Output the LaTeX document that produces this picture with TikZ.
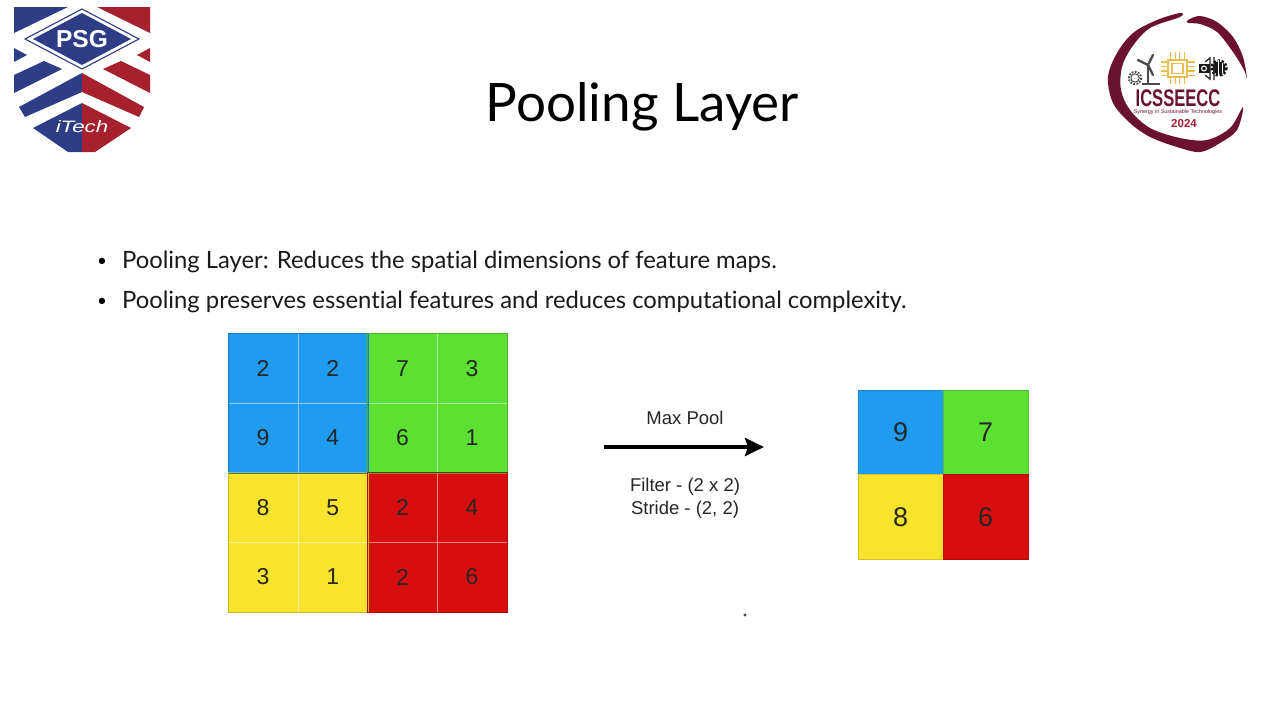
\documentclass[tikz,border=0pt]{standalone}
\usepackage{fontspec}
\setmainfont[Ligatures=NoCommon]{Lato}
\newfontfamily\digitfont{Liberation Sans}
\usetikzlibrary{arrows.meta}
\definecolor{cblue}{HTML}{1F9BF0}
\definecolor{cgreen}{HTML}{5CE032}
\definecolor{cyellow}{HTML}{F9E32C}
\definecolor{cred}{HTML}{D80E0E}
\definecolor{psgblue}{HTML}{2E3E86}
\definecolor{psgred}{HTML}{A6202E}
\definecolor{maroon}{HTML}{6B1230}
\definecolor{gold}{HTML}{E8BE50}
\tikzset{
 x=1pt,y=-1pt,
 title/.style={font=\fontsize{53}{53}\selectfont,text=black,inner sep=0,anchor=base},
 bullettext/.style={font=\fontsize{23.8}{24}\selectfont,anchor=base west,inner sep=0,text=black!90},
 bulletdot/.style={inner sep=0,font=\fontsize{17}{17}\selectfont,anchor=base},
 cell/.style={minimum size=#1,inner sep=0,font=\digitfont\fontsize{23}{23}\selectfont,text=black!85},
 capt/.style={font=\digitfont\fontsize{18.5}{23}\selectfont,text=black!85,align=center,inner sep=0},
}
\begin{document}
\begin{tikzpicture}
\useasboundingbox (0,0) rectangle (1280,720);
\fill[white] (0,0) rectangle (1280,720);
% PSG logo
\fill[psgblue] (14,7)--(68,7)--(14,33)--cycle;
\fill[psgred] (97,7)--(150,7)--(150,33)--cycle;
\fill[psgblue] (14,48)--(27,55)--(14,62)--cycle;
\fill[psgred] (150,48)--(137,55)--(150,62)--cycle;
\fill[psgblue] (14,75)--(44,61)--(62,69)--(14,93)--cycle;
\fill[psgred] (103,69)--(121,61)--(150,75)--(150,93)--cycle;
\fill[psgblue] (19,107)--(82,73)--(82,92)--(25,117)--cycle;
\fill[psgred] (82,73)--(144,107)--(139,117)--(82,92)--cycle;
\fill[psgblue] (33,128)--(82,103)--(82,152)--(68,152)--cycle;
\fill[psgred] (82,103)--(131,128)--(95,152)--(82,152)--cycle;
\draw[psgblue,line width=1.1pt,fill=white] (25,39)--(82,9)--(139,39)--(82,69)--cycle;
\fill[psgblue] (33,39)--(82,13)--(131,39)--(82,65)--cycle;
\node[text=white,inner sep=0,font=\digitfont\bfseries\fontsize{24.5}{25}\selectfont] (psg) at (82,39) {PSG};
\node[text=white,inner sep=0,font=\digitfont\itshape\fontsize{16.5}{17}\selectfont,xscale=1.35] (itech) at (82,127) {iTech};
% ICSSEECC logo ring
\fill[maroon] plot[smooth cycle,tension=.55] coordinates {(1180,13) (1157,20) (1133,33) (1117,53) (1108,77) (1113,103) (1130,123) (1150,137) (1177,147) (1200,152) (1220,143) (1237,130) (1243,107) (1230,128) (1207,140) (1180,138) (1150,128) (1130,110) (1121,90) (1122,67) (1132,47) (1150,28) (1180,17)};
\fill[maroon] plot[smooth cycle,tension=.55] coordinates {(1188,20) (1200,16) (1217,22) (1233,37) (1243,57) (1247,79) (1244,70) (1233,52) (1217,32) (1200,24) (1188,23)};
% wind turbine and gear
\draw[black!70,line width=1.8pt,dash pattern=on 1.8pt off 1.4pt] (1135,78) circle (6.2);
\draw[black!70,line width=1pt] (1135,78) circle (4.2);
\draw[black!70,line width=1.3pt] (1148,65)--(1148,83) (1142,84)--(1160,84);
\draw[black!70,line width=2.4pt,line cap=round] (1148,65)--(1153,55) (1148,65)--(1138,60) (1148,65)--(1153,75);
% chip
\draw[gold,line width=1.8pt] (1168,60) rectangle (1187,77);
\draw[gold,line width=1.2pt] (1172,63.5) rectangle (1183,73.5);
\foreach \t in {0,1,2,3} {
 \draw[gold,line width=1.1pt] (1170.5+\t*4.7,60)--(1170.5+\t*4.7,52);
 \draw[gold,line width=1.1pt] (1170.5+\t*4.7,77)--(1170.5+\t*4.7,84);
 \draw[gold,line width=1.1pt] (1168,62+\t*4.5)--(1161,62+\t*4.5);
 \draw[gold,line width=1.1pt] (1187,62+\t*4.5)--(1195,62+\t*4.5);
}
% circuit gear
\fill[black!90] (1219,68) circle (6.5);
\draw[black!90,line width=2.4pt,dash pattern=on 2.4pt off 1.8pt] (1219,68) circle (7.5);
\fill[black!90] (1199,64) rectangle (1210,73);
\draw[white,line width=1pt] (1204,68.5) circle (2.5);
\draw[black!85,line width=1.2pt] (1210,57)--(1210,80) (1214,57)--(1214,80) (1205,62)--(1210,58) (1205,75)--(1210,79);
\draw[white,line width=.9pt] (1218,60)--(1218,76) (1222,63)--(1222,73);
\node[text=maroon,inner sep=0,font=\digitfont\bfseries\fontsize{24}{24}\selectfont,xscale=.69] (ics) at (1178,98) {ICSSEECC};
\node[text=maroon,inner sep=0,font=\digitfont\fontsize{5.4}{6}\selectfont] (syn) at (1178,112) {Synergy in Sustainable Technologies};
\node[text=psgred,inner sep=0,font=\digitfont\bfseries\fontsize{11.5}{12}\selectfont] (yr) at (1184,123.5) {2024};
% title and bullets
\node[title] (ttl) at (642.5,121) {Pooling Layer};
\node[bullettext] (b1) at (122,268) {Pooling Layer: Reduces the spatial dimensions of feature maps.};
\node[bullettext] (b2) at (122,308) {Pooling preserves essential features and reduces computational complexity.};
\node[bulletdot] (d1) at (102,266) {•};
\node[bulletdot] (d2) at (102,306) {•};
% left grid
\foreach \r/\c/\col/\v in {0/0/cblue/2,0/1/cblue/2,0/2/cgreen/7,0/3/cgreen/3,
 1/0/cblue/9,1/1/cblue/4,1/2/cgreen/6,1/3/cgreen/1,
 2/0/cyellow/8,2/1/cyellow/5,2/2/cred/2,2/3/cred/4,
 3/0/cyellow/3,3/1/cyellow/1,3/2/cred/2,3/3/cred/6}
 \node[cell=69.7pt,fill=\col,draw=white!50!\col,line width=.6pt] (L\r\c) at (263+\c*69.7,368.5+\r*69.5) {\v};
\foreach \a/\b/\col in {L00/L11/cblue,L02/L13/cgreen,L20/L31/cyellow,L22/L33/cred}
 \draw[black!20!\col,line width=.7pt] (\a.north west) rectangle (\b.south east);
% right grid
\foreach \r/\c/\col/\v in {0/0/cblue/9,0/1/cgreen/7,1/0/cyellow/8,1/1/cred/6}
 \node[cell=85pt,fill=\col,draw=black!15!\col,line width=.7pt,font=\digitfont\fontsize{27}{27}\selectfont] (R\r\c) at (900.5+\c*85,432.5+\r*84.5) {\v};
% arrow
\node[capt] (mp) at (685,418) {Max Pool};
\coordinate (as) at (604,447);
\coordinate (ae) at (764,447);
\draw[line width=4pt,-{Stealth[length=19pt,width=18pt,inset=3pt]}] (as)--(ae);
\node[capt] (fs) at (685,498) {Filter - (2 x 2)\\Stride - (2, 2)};
\fill[black!70] (745,615) circle (1.7);
\end{tikzpicture}
\end{document}
